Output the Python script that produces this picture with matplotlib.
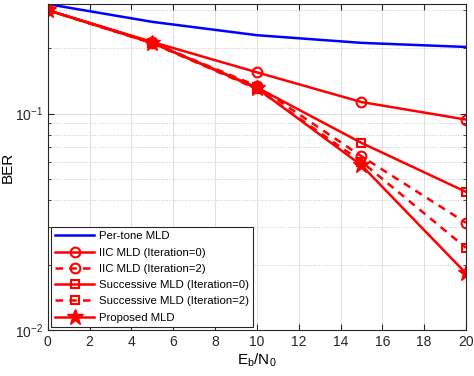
import matplotlib
matplotlib.use("Agg")
import matplotlib.pyplot as plt
from matplotlib.ticker import LogLocator, NullFormatter, FixedLocator

plt.rcParams['font.family'] = ['Liberation Sans', 'DejaVu Sans']
plt.rcParams['mathtext.fontset'] = 'custom'
plt.rcParams['mathtext.rm'] = 'Liberation Sans'
plt.rcParams['mathtext.it'] = 'Liberation Sans'

ebn0 = [0, 5, 10, 15, 20]
per_tone = [0.32, 0.265, 0.23, 0.212, 0.203]
iic0 = [0.30, 0.214, 0.155, 0.113, 0.0938]
iic2 = [0.30, 0.212, 0.134, 0.0635, 0.0313]
succ0 = [0.30, 0.212, 0.132, 0.0732, 0.0435]
succ2 = [0.30, 0.211, 0.130, 0.0600, 0.0240]
proposed = [0.30, 0.212, 0.131, 0.0577, 0.0183]

labels = ['Per-tone MLD', 'IIC MLD (Iteration=0)', 'IIC MLD (Iteration=2)',
          'Successive MLD (Iteration=0)', 'Successive MLD (Iteration=2)', 'Proposed MLD']
xticks = [0, 2, 4, 6, 8, 10, 12, 14, 16, 18, 20]

fig = plt.figure(figsize=(4.74, 3.76), dpi=100)
ax = fig.add_axes([0.101, 0.122, 0.882, 0.867])

red = '#ff0000'
lw = 1.8
ax.plot(ebn0, per_tone, color='#0000ff', lw=lw, label=labels[0])
ax.plot(ebn0, iic0, color=red, lw=lw, marker='o', ms=7, mfc='none', mew=1.5, label=labels[1])
ax.plot(ebn0, iic2, color=red, lw=lw, ls=(0, (3, 2.5)), marker='o', ms=7, mfc='none', mew=1.5, label=labels[2])
ax.plot(ebn0, succ0, color=red, lw=lw, marker='s', ms=6, mfc='none', mew=1.5, label=labels[3])
ax.plot(ebn0, succ2, color=red, lw=lw, ls=(0, (3, 2.5)), marker='s', ms=6, mfc='none', mew=1.5, label=labels[4])
ax.plot(ebn0, proposed, color=red, lw=lw, marker='*', ms=12, mew=1.0, label=labels[5])

ax.set_yscale('log')
ax.set_xlim(0, 20)
ax.set_ylim(1e-2, 0.32)
ax.xaxis.set_major_locator(FixedLocator(xticks))
ax.yaxis.set_major_locator(LogLocator(base=10, numticks=10))
ax.yaxis.set_minor_locator(LogLocator(base=10, subs=range(2, 10), numticks=20))
ax.yaxis.set_minor_formatter(NullFormatter())

ax.grid(True, which='major', axis='both', color='#dedede', lw=0.7, ls='-')
ax.grid(True, which='minor', axis='y', color='#c8c8c8', lw=0.7, ls=':')
ax.set_axisbelow(True)

ax.tick_params(which='both', direction='in', top=True, right=True, labelsize=10, colors='#262626')
ax.tick_params(which='major', length=4)
ax.tick_params(which='minor', length=2)
for s in ax.spines.values():
    s.set_color('#262626')
    s.set_linewidth(0.8)

ax.set_xlabel(r'$\mathregular{E_b/N_0}$', fontsize=11, labelpad=2)
ax.set_ylabel('BER', fontsize=11)
ax.yaxis.set_label_coords(-0.08, 0.5)

leg = ax.legend(loc='lower left', fontsize=8.2, frameon=True, fancybox=False,
                edgecolor='#262626', framealpha=1, handlelength=3.4, handletextpad=0.4,
                borderpad=0.35, labelspacing=0.55, borderaxespad=0.3)
leg.get_frame().set_linewidth(0.8)

fig.savefig('out.png', dpi=100)
